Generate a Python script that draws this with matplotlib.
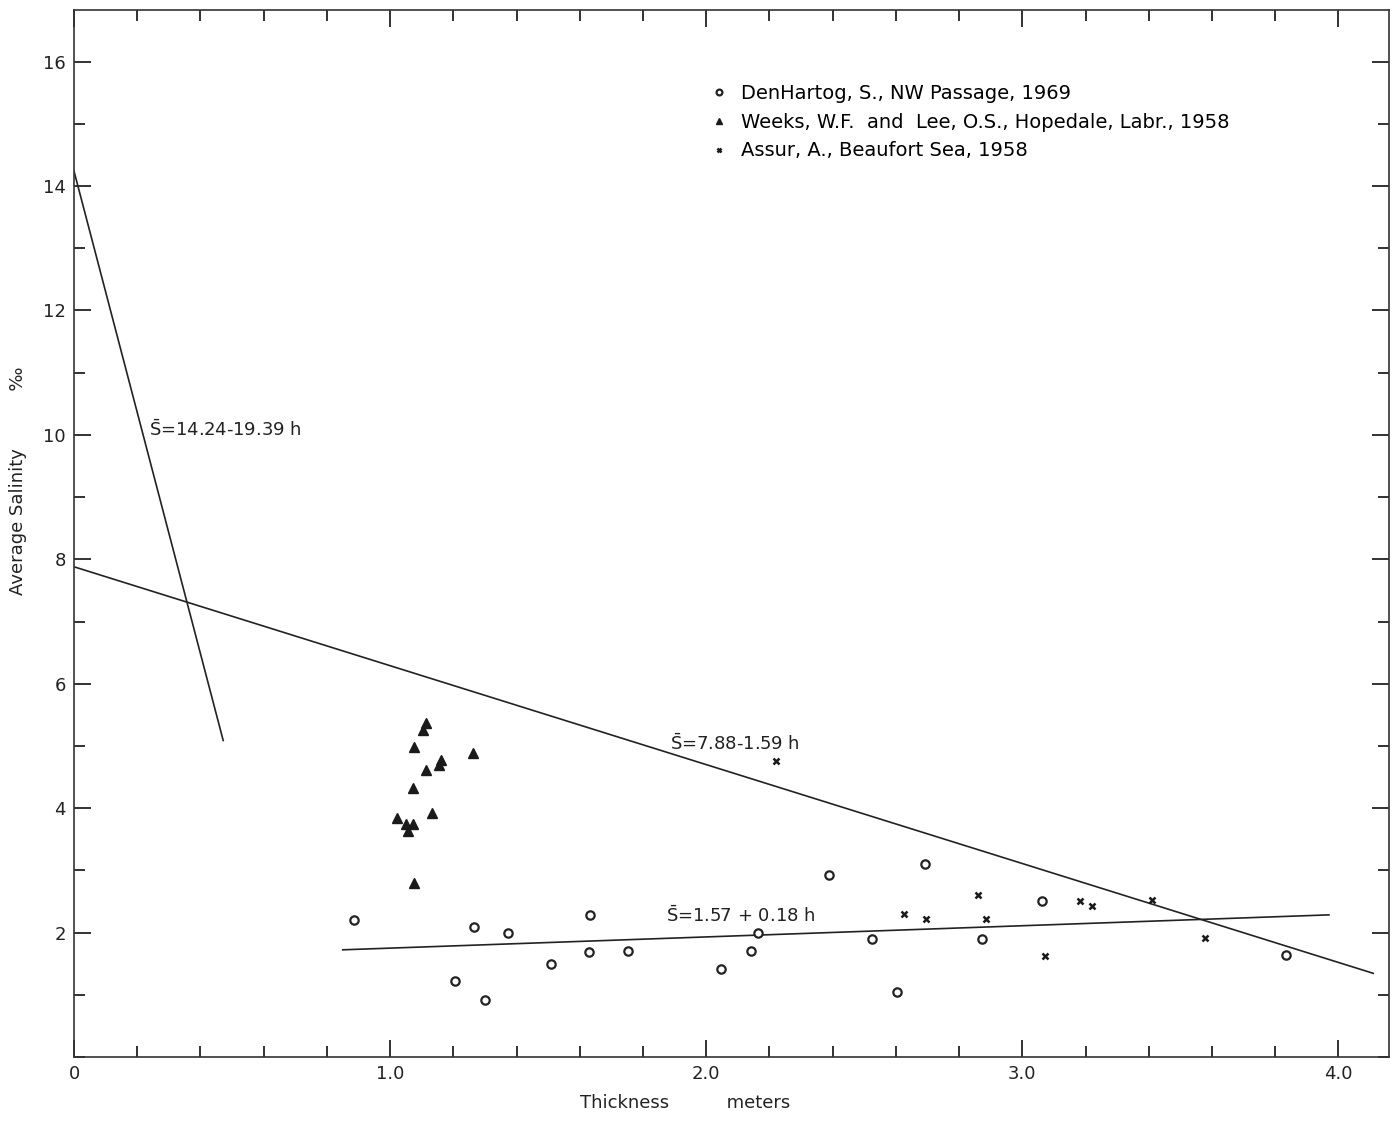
import matplotlib.pyplot as plt
import numpy as np

# DenHartog, NW Passage 1969 (open circles)
den_h = [0.885, 1.265, 1.372, 1.631, 1.628, 1.752, 1.509, 1.205, 1.301,
         2.388, 2.692, 2.165, 2.143, 2.048, 2.525, 2.871, 2.605, 3.063, 3.833]
den_s = [2.20, 2.09, 1.99, 2.29, 1.69, 1.70, 1.50, 1.22, 0.92,
         2.92, 3.11, 1.99, 1.70, 1.41, 1.89, 1.90, 1.05, 2.50, 1.64]

# Weeks and Lee, Hopedale 1958 (triangles)
weeks_h = [1.115, 1.103, 1.075, 1.263, 1.162, 1.154, 1.114, 1.074, 1.133,
           1.023, 1.051, 1.072, 1.057, 1.076]
weeks_s = [5.37, 5.26, 4.99, 4.89, 4.78, 4.70, 4.61, 4.32, 3.93,
           3.84, 3.75, 3.75, 3.64, 2.80]

# Assur, Beaufort Sea 1958 (crosses)
assur_h = [2.626, 2.694, 2.861, 2.884, 3.181, 3.219, 3.411, 3.577, 3.071, 2.22]
assur_s = [2.30, 2.22, 2.61, 2.22, 2.50, 2.42, 2.53, 1.91, 1.63, 4.76]

# regression lines: (a, b, h_start, h_end) for S = a + b*h
fits = [(14.24, -19.39, 0.0, 0.472),
        (7.88, -1.59, 0.0, 4.11),
        (1.57, 0.18, 0.85, 3.97)]
fit_labels = [r'$\bar{\rm S}$=14.24-19.39 h', r'$\bar{\rm S}$=7.88-1.59 h',
              r'$\bar{\rm S}$=1.57 + 0.18 h']
label_pos = [(0.237, 10.08), (1.886, 5.03), (1.873, 2.27)]

plt.rcParams['font.family'] = 'DejaVu Sans'
plt.rcParams['mathtext.fontset'] = 'dejavusans'

fig = plt.figure(figsize=(14, 11.21), dpi=100)
ax = fig.add_axes([74/1400, 1 - 1057/1121, 1315/1400, 1047/1121])

for a, b, h0, h1 in fits:
    hh = np.array([h0, h1])
    ax.plot(hh, a + b*hh, color='#222222', lw=1.2)

ax.plot(den_h, den_s, 'o', mfc='white', mec='#222222', ms=6, mew=1.6, ls='none',
        label='DenHartog, S., NW Passage, 1969')
ax.plot(weeks_h, weeks_s, '^', color='#1a1a1a', ms=7, ls='none',
        label='Weeks, W.F.  and  Lee, O.S., Hopedale, Labr., 1958')
ax.plot(assur_h, assur_s, 'x', color='#1a1a1a', ms=4, mew=1.8, ls='none',
        label='Assur, A., Beaufort Sea, 1958')

for txt, (x, y) in zip(fit_labels, label_pos):
    ax.text(x, y, txt, fontsize=13, color='#222222', va='center', ha='left')

ax.set_xlim(0, 4.16)
ax.set_ylim(0, 16.83)
ax.set_xticks([0, 1, 2, 3, 4])
ax.set_xticklabels(['0', '1.0', '2.0', '3.0', '4.0'])
ax.set_xticks(np.arange(0, 4.2, 0.2), minor=True)
ax.set_yticks([2, 4, 6, 8, 10, 12, 14, 16])
ax.set_yticks(np.arange(0, 17, 1), minor=True)
ax.tick_params(which='both', direction='in', top=True, right=True,
               labelsize=13, colors='#222222', width=1.3)
ax.tick_params(which='major', length=12, pad=6)
ax.tick_params(which='minor', length=8)
for sp in ax.spines.values():
    sp.set_linewidth(1.2)
    sp.set_color('#333333')

ax.set_xlabel('Thickness          meters', fontsize=13, color='#222222', labelpad=8)
ax.xaxis.set_label_coords(0.465, -0.035)
ax.set_ylabel('Average Salinity          ‰', fontsize=13, color='#222222')
ax.yaxis.set_label_coords(-0.036, 0.55)

ax.legend(loc='upper left', bbox_to_anchor=(0.47, 0.946), frameon=False,
          fontsize=14, handlelength=1.0, handletextpad=0.6, labelspacing=0.5,
          markerscale=0.7)

plt.savefig('out.png', dpi=100)
